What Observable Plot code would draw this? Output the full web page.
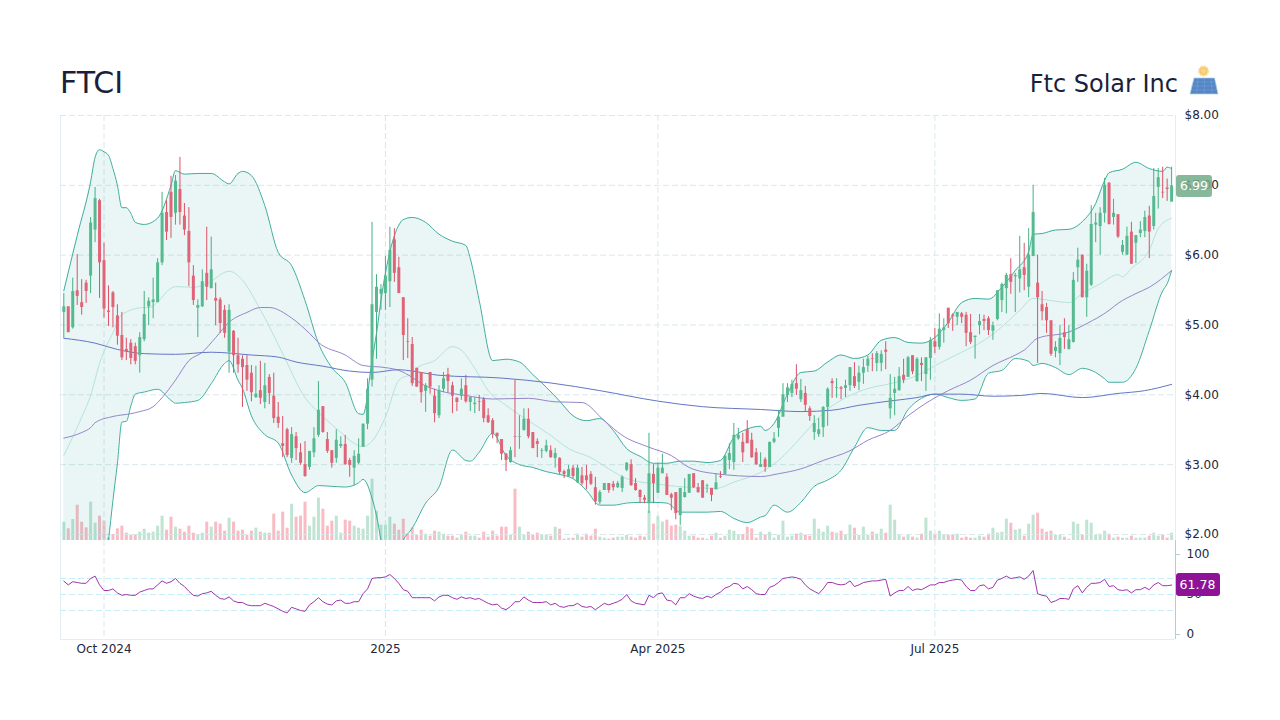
<!DOCTYPE html>
<html><head><meta charset="utf-8">
<script src="https://cdn.jsdelivr.net/npm/d3@7"></script>
<script src="https://cdn.jsdelivr.net/npm/@observablehq/plot@0.6"></script>
<style>
html,body{margin:0;padding:0;background:#fff;width:1280px;height:720px;overflow:hidden;font-family:"DejaVu Sans",sans-serif}
#chart{position:relative;width:1280px;height:720px}
#chart>svg{position:absolute;left:0;top:0;background:transparent}
.t{position:absolute;color:#1b1f3b;white-space:nowrap}
.badge{position:absolute;color:#fff;font-size:12.5px;text-align:center;border-radius:3px;line-height:22px;height:22px}
</style></head><body><div id="chart"></div>
<script>
const title="FTCI", company="Ftc Solar Inc";
const dirRows=["grgrrrggrr","rrrrrrrggg","gggrrgrrrr","ggrgrrrgrr","rrrgrgrrrr","rgrrrgggrr","rggrrggggg","ggggrrrrrr","rgrrggrrrg","rggrrrrrrr","grggrrrggr","grrgrgrrrr","ggrrgggrrr","rgrggrrrgg","grrrgrgrgg","ggrrrrgrgg","ggggrgrrgg","ggrgrggrgg","grggrgggrg","rgrggrggrr","grrrggrrgg","ggrggrggrr","rrggrgggrg","ggggrgrggr","gggrggrrg"];
const dirs=dirRows.join("");
const highs=[5.45,5.26,5.67,6.01,5.65,5.64,6.54,6.97,6.80,6.17,
5.56,5.48,5.29,5.18,4.81,4.79,4.74,4.89,5.48,5.39,
5.67,5.95,6.90,6.78,7.13,7.14,7.40,6.74,6.68,5.85,
5.36,5.79,6.40,6.26,5.60,5.39,5.28,5.29,4.92,4.81,
4.56,4.56,4.42,4.41,4.48,4.45,4.29,4.31,3.89,3.69,
3.52,3.53,3.46,3.30,3.33,3.19,3.53,4.19,3.83,3.46,
3.20,3.50,3.40,3.42,3.09,3.20,3.37,3.58,4.23,6.47,
5.72,5.58,5.98,6.40,6.38,5.97,5.39,5.09,4.82,4.38,
4.32,4.16,4.32,4.08,4.13,4.32,4.38,4.18,3.96,4.23,
4.28,3.96,3.96,3.99,3.96,3.80,3.66,3.45,3.36,3.16,
3.25,4.21,3.70,3.80,3.80,3.46,3.37,3.23,3.35,3.27,
3.23,3.10,2.92,2.99,2.99,2.99,2.96,2.99,2.90,2.82,
2.63,2.73,2.73,2.76,2.76,2.84,3.03,3.07,2.80,2.64,
2.56,3.45,3.00,3.02,3.15,2.87,2.59,2.60,2.66,2.80,
2.86,2.87,2.73,2.77,2.72,2.66,2.87,2.90,3.13,3.30,
3.59,3.52,3.45,3.63,3.45,3.23,3.17,3.10,3.32,3.46,
3.78,4.16,4.16,4.21,4.43,4.22,4.12,3.83,3.70,3.66,
3.83,4.10,4.23,4.23,4.12,4.21,4.39,4.46,4.41,4.51,
4.55,4.59,4.62,4.63,4.76,4.29,4.25,4.39,4.51,4.55,
4.56,4.53,4.53,4.53,4.82,4.95,5.16,5.09,5.24,5.16,
5.18,5.18,5.18,5.15,4.84,5.15,5.14,5.12,5.04,5.49,
5.60,5.74,5.95,5.74,6.27,6.17,6.38,7.00,6.00,5.48,
5.31,5.06,4.76,4.99,5.09,4.99,5.75,6.10,6.00,5.87,
6.71,6.60,6.68,7.10,7.04,6.80,6.58,6.21,6.40,6.47,
6.28,6.48,6.63,6.70,7.24,7.24,7.26,7.09,7.26];
const bodyTops=[5.26,5.26,5.48,5.49,5.32,5.60,6.46,6.81,6.78,5.92,
5.20,5.46,5.13,4.85,4.65,4.74,4.69,4.82,5.15,5.34,
5.36,5.89,6.60,6.61,6.90,7.06,6.94,6.56,6.34,5.70,
5.28,5.62,5.74,5.79,5.38,5.36,5.21,5.21,4.91,4.56,
4.51,4.42,4.31,4.01,4.06,4.13,4.25,3.98,3.68,3.30,
3.50,3.43,3.40,3.17,3.00,3.19,3.37,3.78,3.83,3.36,
3.20,3.35,3.29,3.29,3.06,3.12,3.15,3.58,4.08,5.29,
5.54,5.51,5.70,6.07,6.22,5.82,5.39,4.76,4.72,4.38,
4.32,4.13,4.32,3.98,4.06,4.23,4.29,4.13,3.95,4.08,
4.13,3.96,3.88,3.90,3.93,3.70,3.63,3.45,3.36,3.15,
3.20,3.40,3.40,3.65,3.65,3.46,3.33,3.20,3.27,3.20,
3.16,3.09,2.90,2.93,2.95,2.95,2.84,2.84,2.86,2.67,
2.60,2.73,2.73,2.72,2.73,2.82,3.02,3.00,2.73,2.63,
2.52,2.87,2.86,2.95,2.95,2.82,2.57,2.60,2.66,2.60,
2.86,2.87,2.67,2.77,2.70,2.66,2.74,2.83,3.12,3.16,
3.42,3.42,3.32,3.50,3.35,3.17,3.00,3.07,3.32,3.37,
3.68,4.00,4.10,4.15,4.16,4.06,4.02,3.80,3.59,3.50,
3.82,4.08,4.19,4.10,4.10,4.13,4.39,4.26,4.31,4.39,
4.51,4.52,4.59,4.58,4.64,3.95,4.08,4.26,4.28,4.53,
4.56,4.51,4.45,4.53,4.78,4.76,4.94,4.96,5.24,5.14,
5.18,5.16,5.14,4.89,4.84,5.05,5.08,5.09,4.99,5.49,
5.58,5.71,5.72,5.71,5.79,5.82,6.00,6.61,5.60,5.29,
5.25,5.06,4.68,4.81,4.89,4.79,5.64,5.93,6.00,5.77,
6.44,6.46,6.60,7.00,7.03,6.60,6.58,6.14,6.27,6.33,
6.28,6.36,6.54,6.56,6.84,7.11,6.90,6.96,6.99];
const bodyBottoms=[5.18,4.89,4.96,5.41,5.25,5.48,5.70,6.36,5.89,5.23,
5.18,5.25,4.84,4.53,4.62,4.52,4.48,4.56,4.79,5.26,
5.32,5.32,5.89,6.33,6.54,6.60,6.61,6.36,5.89,5.35,
5.24,5.26,5.54,5.52,5.34,5.02,4.88,4.61,4.56,4.43,
4.39,4.21,4.03,3.96,3.95,3.89,4.02,3.66,3.59,3.26,
3.13,3.09,3.23,3.02,2.83,2.96,3.17,3.42,3.46,3.19,
3.02,3.09,3.26,3.00,2.99,2.95,3.02,3.25,3.58,4.21,
5.18,5.44,5.45,5.62,5.74,5.45,4.85,4.75,4.16,4.11,
4.03,4.05,4.11,3.73,3.70,4.08,4.19,3.98,3.89,3.98,
3.90,3.89,3.86,3.89,3.66,3.60,3.43,3.40,3.15,3.06,
3.03,3.39,3.39,3.49,3.40,3.23,3.29,3.19,3.19,3.10,
3.09,2.89,2.86,2.83,2.83,2.74,2.73,2.77,2.72,2.47,
2.46,2.63,2.63,2.67,2.67,2.66,2.92,2.70,2.63,2.53,
2.49,2.44,2.73,2.59,2.87,2.56,2.52,2.30,2.27,2.53,
2.59,2.67,2.60,2.52,2.69,2.56,2.64,2.82,2.86,3.06,
3.03,3.37,3.17,3.30,3.10,3.00,2.96,2.96,2.96,3.32,
3.52,3.68,3.99,4.02,4.08,3.93,3.85,3.69,3.46,3.43,
3.53,3.82,4.16,4.09,4.08,4.09,4.13,4.12,4.18,4.31,
4.41,4.51,4.45,4.45,4.61,3.80,4.02,4.06,4.21,4.25,
4.33,4.19,4.42,4.29,4.52,4.68,4.68,4.92,5.02,5.12,
5.11,5.11,4.88,4.75,4.82,4.99,5.05,4.92,4.91,5.08,
5.35,5.52,5.61,5.69,5.66,5.71,5.54,5.98,5.39,5.19,
5.06,4.58,4.62,4.59,4.82,4.65,4.75,5.82,5.39,5.39,
5.57,6.43,6.41,6.60,6.44,6.54,6.26,6.04,6.00,5.87,
6.17,6.31,6.34,6.33,6.41,6.97,6.89,6.94,6.76];
const lows=[4.81,4.89,4.94,5.28,5.14,5.31,5.45,6.18,5.38,5.10,
4.98,4.96,4.71,4.49,4.49,4.43,4.43,4.31,4.76,4.99,
5.09,5.32,5.85,6.21,6.24,6.43,6.43,6.28,5.55,5.28,
4.82,5.25,5.35,5.52,4.99,4.88,4.81,4.31,4.31,4.31,
3.82,4.05,3.90,3.95,3.86,3.80,3.86,3.59,3.52,3.10,
3.10,3.02,3.06,2.99,2.82,2.92,3.10,3.39,3.45,3.16,
2.95,3.02,3.23,2.99,2.82,2.70,3.00,3.25,3.50,4.11,
4.51,5.21,5.21,5.25,5.61,5.45,4.49,4.52,4.12,4.11,
3.88,3.75,4.01,3.60,3.66,4.03,4.03,3.73,3.76,3.92,
3.88,3.76,3.73,3.76,3.60,3.59,3.37,3.30,3.06,2.90,
3.02,3.10,3.22,3.48,3.37,3.23,3.10,3.09,3.17,3.09,
2.95,2.85,2.80,2.82,2.80,2.73,2.70,2.64,2.70,2.42,
2.43,2.63,2.59,2.62,2.66,2.60,2.90,2.69,2.62,2.44,
2.44,2.30,2.44,2.59,2.87,2.56,2.34,2.21,2.13,2.52,
2.59,2.66,2.59,2.52,2.59,2.47,2.64,2.80,2.86,2.93,
2.92,3.35,3.03,3.30,3.09,2.99,2.96,2.89,2.96,3.30,
3.39,3.68,3.89,3.96,3.99,3.89,3.75,3.62,3.35,3.39,
3.39,3.55,3.95,3.95,3.93,3.96,4.05,4.09,4.06,4.15,
4.32,4.33,4.33,4.33,4.36,3.65,3.70,4.05,4.16,4.25,
4.29,4.18,4.19,4.05,4.21,4.59,4.64,4.74,4.95,4.91,
4.99,5.02,4.69,4.72,4.51,4.86,4.92,4.85,4.78,5.06,
5.18,5.16,5.44,5.18,5.46,5.49,5.39,5.98,4.45,5.06,
4.88,4.55,4.53,4.42,4.65,4.64,4.74,5.61,5.39,5.11,
5.55,6.18,6.00,6.46,6.43,6.43,6.24,6.00,6.00,5.87,
5.88,6.25,6.25,5.95,6.36,6.66,6.81,6.77,6.76];
const volumes=[55,35,63,106,55,38,115,52,73,58,
8,18,35,43,22,16,16,25,34,22,
25,43,73,31,70,40,34,25,43,22,
16,22,55,40,55,49,28,67,55,28,
31,16,28,37,25,22,22,79,28,85,
37,109,70,73,115,43,70,127,94,43,
58,73,22,61,58,43,37,34,73,184,
88,46,46,70,49,31,64,19,37,16,
31,19,13,28,25,19,13,13,7,16,
25,13,13,7,25,10,28,13,40,40,
16,154,40,16,25,16,22,16,16,13,
40,34,4,7,7,19,10,19,13,34,
10,7,4,7,10,10,15,10,7,13,
10,88,49,73,55,61,43,46,43,28,
13,13,7,7,4,13,22,7,13,31,
28,18,18,40,35,7,25,16,25,7,
16,58,10,13,19,22,16,13,64,34,
25,43,25,22,28,16,46,37,15,40,
16,25,19,34,22,106,61,16,10,16,
10,7,19,67,28,19,28,16,16,16,
19,7,10,7,7,13,10,19,37,22,
25,64,52,31,34,13,49,76,82,34,
25,28,16,16,10,4,55,49,16,61,
52,16,19,28,19,7,10,7,7,13,
7,7,7,13,22,13,16,7,22];
const rsi=[66.7,62,66,65,64,64,70,73,62,55,
55,57,52,49,50,49,49,53,55,57,
57,62,67,64,66,70,64,60,54,49,
48,51,52,54,49,45,44,47,42,40,
40,37,36,36,36,39,37,35,32,29,
27,34,32,30,29,37,41,46,41,38,
37,42,43,39,39,41,41,51,57,70,
71,71,72,75,70,64,56,54,46,46,
46,46,46,42,47,49,49,46,44,47,
45,46,44,45,42,39,37,38,33,31,
35,41,41,47,43,40,40,40,41,37,
39,35,34,36,36,39,35,34,35,31,
35,39,37,39,41,44,50,42,39,38,
37,49,46,51,52,43,42,37,46,46,
51,48,46,45,48,46,50,53,58,60,
64,63,57,60,56,51,50,50,59,61,
65,70,71,72,71,69,62,57,54,51,
57,65,65,63,62,63,67,60,62,65,
66,67,67,68,69,48,52,55,55,60,
55,57,56,59,62,62,65,65,67,68,
69,68,60,55,55,61,62,57,59,68,
70,73,70,71,72,69,73,80,51,49,
48,40,42,45,45,44,57,61,52,59,
64,64,65,69,60,61,56,55,56,52,
56,56,59,56,62,65,61,61,61.78];
const bandIndex=[0,3,6,7,8,9,10,11,12,13,14,15,16,18,21,24,25,27,30,33,36,37,39,40,42,45,48,51,54,57,60,63,66,67,69,70,71,72,75,76,78,81,84,87,90,91,93,96,99,102,105,108,111,114,117,120,123,126,129,132,135,138,141,144,147,150,153,156,157,159,162,165,168,171,174,177,180,183,186,189,192,195,198,201,204,207,210,213,216,217,219,222,225,228,231,233,234,237,240,243,246,247,248];
const bandUpper=[5.49,6.28,7.05,7.40,7.51,7.48,7.43,7.24,7.00,6.68,6.68,6.60,6.47,6.44,6.53,7.00,7.21,7.16,7.17,7.17,7.05,7.02,7.17,7.20,7.14,6.71,6.04,5.85,5.35,4.74,4.39,4.18,3.73,3.72,4.49,4.88,5.35,5.74,6.43,6.51,6.54,6.47,6.30,6.20,6.14,5.95,5.35,4.49,4.51,4.47,4.29,4.11,3.91,3.70,3.63,3.66,3.49,3.23,3.12,3.02,3.02,3.05,3.05,3.03,3.06,3.39,3.51,3.55,3.49,3.59,4.01,4.32,4.34,4.47,4.57,4.52,4.57,4.78,4.82,4.75,4.74,4.82,5.04,5.32,5.38,5.37,5.54,5.78,6.05,6.30,6.31,6.36,6.37,6.48,6.74,7.07,7.18,7.23,7.33,7.24,7.20,7.26,7.24];
const bandLower=[0.4,0.4,0.4,0.4,0.48,1.42,1.92,2.49,3.02,3.61,3.62,3.84,4.01,4.04,4.08,3.92,3.88,3.89,3.92,4.16,4.45,4.49,4.21,4.09,3.70,3.43,3.31,2.85,2.60,2.70,2.69,2.68,2.74,2.79,2.52,2.27,1.92,1.56,1.77,1.92,2.09,2.45,2.68,3.21,3.06,3.05,3.18,3.45,3.13,3.00,2.96,2.90,2.86,2.80,2.63,2.42,2.42,2.45,2.46,2.46,2.45,2.32,2.32,2.32,2.33,2.23,2.17,2.25,2.27,2.42,2.32,2.46,2.69,2.78,2.92,3.25,3.53,3.49,3.49,3.79,3.95,4.01,3.96,3.92,3.94,4.31,4.35,4.52,4.48,4.42,4.45,4.39,4.29,4.38,4.32,4.23,4.18,4.18,4.38,4.92,5.49,5.59,5.78];
const midIndex=[0,4,6,8,11,13,18,19,25,29,32,37,40,44,49,54,57,61,67,68,72,75,78,79,83,87,89,92,95,99,104,109,113,118,122,126,133,139,146,150,156,160,165,170,176,180,185,190,196,201,206,209,214,217,222,225,228,232,236,237,239,243,245,248];
const bandMiddle=[3.13,3.68,3.99,4.45,4.89,5.15,5.25,5.25,5.55,5.54,5.59,5.77,5.64,5.22,4.59,3.96,3.75,3.52,3.26,3.28,3.68,4.21,4.31,4.38,4.49,4.69,4.64,4.38,4.06,3.85,3.63,3.42,3.23,3.10,2.94,2.80,2.72,2.68,2.66,2.75,2.89,3.06,3.39,3.74,3.99,4.09,4.16,4.25,4.45,4.61,4.78,4.92,5.21,5.38,5.34,5.32,5.45,5.59,5.72,5.69,5.81,6.07,6.38,6.53];
const sma50Index=[0,4,6,7,11,15,17,20,22,25,28,31,34,37,41,44,46,51,55,57,63,67,72,75,78,80,84,90,96,104,110,116,121,125,131,136,140,146,156,160,165,170,176,180,185,189,193,198,203,208,213,215,218,225,229,234,236,240,243,248];
const sma50=[3.38,3.46,3.53,3.60,3.69,3.73,3.76,3.83,3.96,4.21,4.49,4.61,4.82,5.04,5.18,5.25,5.25,5.10,4.88,4.75,4.57,4.42,4.39,4.35,4.25,4.16,4.06,3.99,3.94,3.95,3.90,3.89,3.63,3.42,3.25,3.13,2.96,2.87,2.83,2.87,2.94,3.06,3.20,3.35,3.49,3.70,3.88,4.06,4.21,4.42,4.57,4.64,4.81,4.90,5.02,5.21,5.31,5.45,5.54,5.78];
const sma200Index=[0,7,12,18,25,33,42,48,52,58,64,69,75,78,84,98,109,120,133,143,156,165,172,178,186,191,195,201,208,214,219,228,236,242,248];
const sma200=[4.81,4.74,4.65,4.59,4.58,4.61,4.57,4.54,4.47,4.41,4.34,4.32,4.36,4.34,4.28,4.24,4.17,4.06,3.91,3.83,3.79,3.76,3.78,3.85,3.92,3.96,4.01,4.01,3.98,3.99,4.02,3.96,4.02,4.06,4.15];
const priceTicks=[2,3,4,5,6,7,8];
const rsiGrid=[30,50,70];
const rsiTicks=[0,50,100];
const dateIndex=[9,72,133,195];
const dateLabels=["Oct 2024","2025","Apr 2025","Jul 2025"];

const UP="#56ba91",DOWN="#df6477",UPW="#45b083",DOWNW="#dc5267",VUP="#bfe4d2",VDOWN="#f9bcc5";
const bars=highs.map((h,i)=>({i,high:h,top:bodyTops[i],bottom:bodyBottoms[i],low:lows[i],volume:volumes[i],rsi:rsi[i],up:dirs[i]==="g"}));
const upBars=bars.filter(d=>d.up),downBars=bars.filter(d=>!d.up);
const band=bandIndex.map((i,k)=>({i,upper:bandUpper[k],lower:bandLower[k]}));
const pairs=(xs,ys)=>xs.map((i,k)=>({i,v:ys[k]}));
const xDomain=[-0.74,248.87];
const base={width:1280,height:720,marginLeft:60,marginRight:105,x:{domain:xDomain,axis:null},
 style:{background:"transparent",fontFamily:"DejaVu Sans, sans-serif",fontSize:"12px",color:"#23273c"}};
const GRID="#d9e8ec",DASH="6,3";
const SMOOTH="monotone-x";

const volumePlot=Plot.plot({...base,marginTop:115,marginBottom:180,y:{domain:[0,1275],axis:null},
 marks:[
  Plot.ruleX(upBars,{x:"i",y1:0,y2:"volume",stroke:VUP,strokeWidth:3}),
  Plot.ruleX(downBars,{x:"i",y1:0,y2:"volume",stroke:VDOWN,strokeWidth:3})
 ]});

const pricePlot=Plot.plot({...base,marginTop:115,marginBottom:180,y:{domain:[1.914,8],axis:null},
 marks:[
  Plot.ruleX(xDomain.slice(0,1),{stroke:"#e1eef2"}),
  Plot.ruleX(xDomain.slice(1),{stroke:"#e1eef2"}),
  Plot.ruleY(priceTicks,{stroke:GRID,strokeDasharray:DASH}),
  Plot.ruleX(dateIndex,{stroke:GRID,strokeDasharray:DASH}),
  Plot.areaY(band,{x:"i",y1:"lower",y2:"upper",fill:"#26a69a",fillOpacity:0.1,clip:true,curve:SMOOTH}),
  Plot.line(pairs(midIndex,bandMiddle),{x:"i",y:"v",stroke:"#b6e3da",strokeWidth:1,clip:true,curve:SMOOTH}),
  Plot.line(band,{x:"i",y:"upper",stroke:"#3fae9f",strokeWidth:1,clip:true,curve:SMOOTH}),
  Plot.line(band,{x:"i",y:"lower",stroke:"#3fae9f",strokeWidth:1,clip:true,curve:SMOOTH}),
  Plot.line(pairs(sma50Index,sma50),{x:"i",y:"v",stroke:"#9685cb",strokeWidth:1,clip:true,curve:SMOOTH}),
  Plot.line(pairs(sma200Index,sma200),{x:"i",y:"v",stroke:"#6476c6",strokeWidth:1,clip:true,curve:SMOOTH}),
  Plot.ruleX(upBars,{x:"i",y1:"low",y2:"high",stroke:UPW,strokeWidth:1}),
  Plot.ruleX(downBars,{x:"i",y1:"low",y2:"high",stroke:DOWNW,strokeWidth:1}),
  Plot.ruleX(upBars,{x:"i",y1:"bottom",y2:"top",stroke:UP,strokeWidth:3}),
  Plot.ruleX(downBars,{x:"i",y1:"bottom",y2:"top",stroke:DOWN,strokeWidth:3}),
  Plot.axisY(priceTicks,{anchor:"right",tickSize:0,tickPadding:9,label:null,tickFormat:d=>"$"+d.toFixed(2)})
 ]});

const rsiPlot=Plot.plot({...base,marginTop:540,marginBottom:81,y:{domain:[-6.25,117.5],axis:null},
 marks:[
  Plot.ruleX(xDomain.slice(0,1),{stroke:"#e1eef2"}),
  Plot.ruleX(xDomain.slice(1),{stroke:"#a9d0de"}),
  Plot.ruleY([-6.25],{stroke:"#e1eef2"}),
  Plot.ruleY(rsiGrid,{stroke:"#c6eefb",strokeDasharray:DASH}),
  Plot.ruleX(dateIndex,{stroke:GRID,strokeDasharray:DASH}),
  Plot.line(bars,{x:"i",y:"rsi",stroke:"#a035aa",strokeWidth:1}),
  Plot.axisY(rsiTicks,{anchor:"right",tickSize:4,tickPadding:7,label:null,stroke:"#a9d0de"}),
  Plot.axisX(dateIndex,{anchor:"bottom",tickSize:0,tickPadding:5,label:null,tickFormat:d=>dateLabels[dateIndex.indexOf(d)]})
 ]});

const root=document.getElementById("chart");
root.append(volumePlot,pricePlot,rsiPlot);

function addText(txt,css){const e=document.createElement("div");e.className="t";e.textContent=txt;Object.assign(e.style,css);root.append(e);return e;}
addText(title,{left:"60px",top:"64px",fontSize:"30px",lineHeight:"38px"});
addText(company,{right:"102px",top:"69px",fontSize:"24px",lineHeight:"30px"});

const icon=document.createElement("div");
icon.style.cssText="position:absolute;left:1186px;top:62px;width:36px;height:36px";
icon.innerHTML='<svg width="36" height="36" viewBox="0 0 36 36"><circle cx="17.5" cy="9" r="4.6" fill="#f6c15c" stroke="#f9dc9e" stroke-width="2" stroke-dasharray="2,1"/><circle cx="17.5" cy="9" r="2.8" fill="#f4d58c"/><path d="M8 16H28.5L32 32H4Z" fill="#5586c6" stroke="#b6d0ea" stroke-width="0.7"/><path d="M5.5 24H30.5M7 20H29.5M5 28H31M12 16L10.5 32M18.3 16V32M25 16L26.5 32" stroke="#7ba4d6" stroke-width="0.5" fill="none"/></svg>';
root.append(icon);

const yP=pricePlot.scale("y").apply(bodyTops[248]);
const b1=document.createElement("div");b1.className="badge";b1.textContent="6.99";
b1.style.cssText=`left:1176px;top:${yP-11}px;width:36px;background:rgba(116,172,138,.86)`;root.append(b1);
const yR=rsiPlot.scale("y").apply(rsi[248]);
const b2=document.createElement("div");b2.className="badge";b2.textContent="61.78";
b2.style.cssText=`left:1175.5px;top:${yR-12}px;width:44px;height:23px;line-height:23px;background:#8e1396`;root.append(b2);
</script></body></html>
